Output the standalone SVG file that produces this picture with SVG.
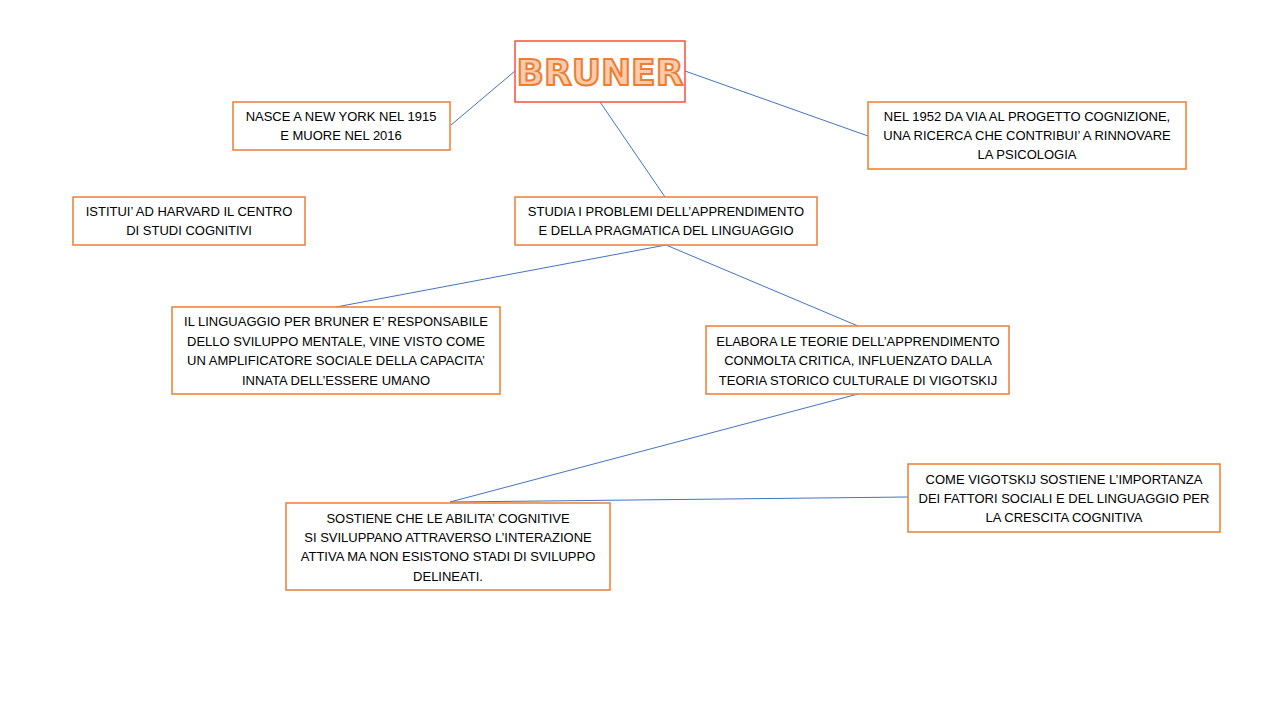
<svg xmlns="http://www.w3.org/2000/svg" width="1280" height="720" viewBox="0 0 1280 720">
<style>
.b{fill:#fff;stroke:#ED7D31;stroke-width:1.5}
.t{font-family:"Liberation Sans",Arial,sans-serif;font-size:13px;fill:#000;text-anchor:middle}
.c line{stroke:#4472C4;stroke-width:1}
</style>
<rect width="1280" height="720" fill="#fff"/>
<g class="c">
<line x1="515" y1="71" x2="451" y2="125"/>
<line x1="685" y1="71" x2="868" y2="136"/>
<line x1="600" y1="102" x2="665" y2="197"/>
<line x1="666" y1="245" x2="336" y2="307"/>
<line x1="666" y1="245" x2="858" y2="326"/>
<line x1="858" y1="394" x2="450" y2="502"/>
<line x1="450" y1="502" x2="908" y2="497"/>
</g>
<g id="bruner">
<rect x="515" y="41" width="170" height="61" fill="#fff" stroke="#FF4B3E" stroke-width="1.5"/>
<text x="600" y="85" font-family="'DejaVu Sans',sans-serif" font-weight="bold" font-size="36" fill="#F8CBAD" stroke="#ED7D31" stroke-width="2" text-anchor="middle">BRUNER</text>
</g>
<g id="n1"><rect class="b" x="233" y="102" width="217" height="48"/>
<text class="t" x="341" y="121">NASCE A NEW YORK NEL 1915</text><text class="t" x="341" y="140">E MUORE NEL 2016</text></g>
<g id="n2"><rect class="b" x="868" y="102" width="318" height="67"/>
<text class="t" x="1027" y="121">NEL 1952 DA VIA AL PROGETTO COGNIZIONE,</text><text class="t" x="1027" y="140">UNA RICERCA CHE CONTRIBUI’ A RINNOVARE</text><text class="t" x="1027" y="159">LA PSICOLOGIA</text></g>
<g id="n3"><rect class="b" x="73" y="197" width="232" height="48"/>
<text class="t" x="189" y="216">ISTITUI’ AD HARVARD IL CENTRO</text><text class="t" x="189" y="235">DI STUDI COGNITIVI</text></g>
<g id="n4"><rect class="b" x="515" y="197" width="302" height="48"/>
<text class="t" x="666" y="216">STUDIA I PROBLEMI DELL’APPRENDIMENTO</text><text class="t" x="666" y="235">E DELLA PRAGMATICA DEL LINGUAGGIO</text></g>
<g id="n5"><rect class="b" x="172" y="307" width="328" height="87"/>
<text class="t" x="336" y="326">IL LINGUAGGIO PER BRUNER E’ RESPONSABILE</text><text class="t" x="336" y="346">DELLO SVILUPPO MENTALE, VINE VISTO COME</text><text class="t" x="336" y="365">UN AMPLIFICATORE SOCIALE DELLA CAPACITA’</text><text class="t" x="336" y="385">INNATA DELL’ESSERE UMANO</text></g>
<g id="n6"><rect class="b" x="706" y="326" width="303" height="68"/>
<text class="t" x="858" y="346">ELABORA LE TEORIE DELL’APPRENDIMENTO</text><text class="t" x="858" y="365">CONMOLTA CRITICA, INFLUENZATO DALLA</text><text class="t" x="858" y="385">TEORIA STORICO CULTURALE DI VIGOTSKIJ</text></g>
<g id="n7"><rect class="b" x="908" y="464" width="312" height="68"/>
<text class="t" x="1064" y="484">COME VIGOTSKIJ SOSTIENE L’IMPORTANZA</text><text class="t" x="1064" y="503">DEI FATTORI SOCIALI E DEL LINGUAGGIO PER</text><text class="t" x="1064" y="522">LA CRESCITA COGNITIVA</text></g>
<g id="n8"><rect class="b" x="286" y="503" width="324" height="87"/>
<text class="t" x="448" y="523">SOSTIENE CHE LE ABILITA’ COGNITIVE</text><text class="t" x="448" y="542">SI SVILUPPANO ATTRAVERSO L’INTERAZIONE</text><text class="t" x="448" y="561">ATTIVA MA NON ESISTONO STADI DI SVILUPPO</text><text class="t" x="448" y="581">DELINEATI.</text></g>
</svg>
